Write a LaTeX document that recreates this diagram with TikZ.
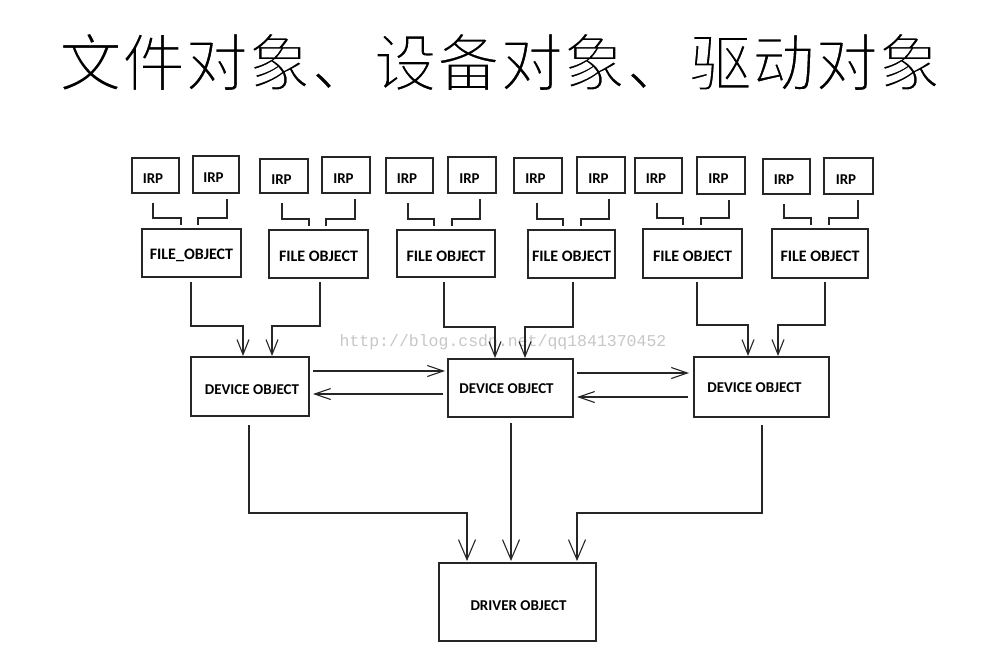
\documentclass[tikz,border=0pt]{standalone}
\usepackage{fontspec}
\setmainfont{Carlito}
\newfontfamily\cjkfont{Noto Sans CJK SC}
\newfontfamily\wmfont{Liberation Mono}
\usetikzlibrary{arrows.meta}
\tikzset{
  box/.style={draw=black!85, line width=1.3pt, inner sep=0pt, outer sep=0pt, fill=white},
  txt/.style={font=\bfseries\fontsize{15}{15}\selectfont, inner sep=0pt, text=black},
  ftxt/.style={font=\bfseries\fontsize{16}{16}\selectfont, inner sep=0pt, text=black},
  conn/.style={draw=black!85, line width=1.2pt},
  varr/.style={conn, -{Straight Barb[length=15pt,width=12pt,line width=1.1pt]}},
  harr/.style={conn, -{Straight Barb[length=16pt,width=11pt,line width=1.1pt]}},
  darr/.style={conn, -{Straight Barb[length=20pt,width=17pt,line width=1.1pt]}},
}
\newcommand\thinon{\special{pdf:literal direct 2 Tr 1 G 2 w}}
\newcommand\thinoff{\special{pdf:literal direct 0 Tr 0 G 1 w}}
\newcommand\irpbox[6]{\node[box,minimum width=#4pt,minimum height=#5pt,
  label={[txt,shift={(-2.5,3.5)}]center:IRP}] (#1) at (#2,#3) {};}
\newcommand\filebox[6]{\node[box,minimum width=#4pt,minimum height=#5pt,
  label={[ftxt,shift={(0,2.5)}]center:#6}] (#1) at (#2,#3) {};}
\newcommand\irpconn[7]{%
  \draw[conn] ([shift={(#4,10)}]#1.south) |- ([shift={(#5,-11)}]#3.north) -- ([shift={(#5,-4)}]#3.north);
  \draw[conn] ([shift={(#6,6)}]#2.south) |- ([shift={(#7,-11)}]#3.north) -- ([shift={(#7,-4)}]#3.north);}
\begin{document}
\begin{tikzpicture}[x=1pt,y=-1pt]
\fill[white] (0,0) rectangle (987,659);
\useasboundingbox (0,0) rectangle (987,659);

% title
\node[font=\cjkfont\fontsize{63}{63}\selectfont, inner sep=0pt] (title) at (500,62) {\thinon 文件对象、设备对象、驱动对象\thinoff};

% watermark
\node[font=\wmfont\fontsize{16.5}{16.5}\selectfont, text=black!22, anchor=base, inner sep=0pt] (wm) at (503,346) {http://blog.csdn.net/qq1841370452};

% IRP boxes
\irpbox{I1a}{155.5}{175.5}{47}{35}{}
\irpbox{I1b}{216}{174.5}{46}{37}{}
\irpbox{I2a}{284}{176}{48}{34}{}
\irpbox{I2b}{346}{175}{48}{36}{}
\irpbox{I3a}{409.5}{175.5}{47}{35}{}
\irpbox{I3b}{472}{175}{48}{36}{}
\irpbox{I4a}{538}{175.5}{48}{35}{}
\irpbox{I4b}{601}{175}{48}{36}{}
\irpbox{I5a}{658.5}{175.5}{47}{35}{}
\irpbox{I5b}{721}{175.5}{48}{37}{}
\irpbox{I6a}{786.5}{176.5}{47}{35}{}
\irpbox{I6b}{848.5}{176}{49}{36}{}

% file objects
\filebox{F1}{191.5}{253}{99}{48}{FILE\_OBJECT}
\filebox{F2}{318.5}{254}{99}{48}{FILE OBJECT}
\filebox{F3}{446}{253.5}{98}{47}{FILE OBJECT}
\filebox{F4}{571.5}{254}{87}{48}{FILE OBJECT}
\filebox{F5}{692.5}{253.5}{99}{49}{FILE OBJECT}
\filebox{F6}{820}{253.5}{96}{49}{FILE OBJECT}

% device objects
\node[box,minimum width=118pt,minimum height=59pt,label={[txt,shift={(2,3.5)}]center:DEVICE OBJECT}] (D1) at (250,386.5) {};
\node[box,minimum width=125pt,minimum height=58pt,label={[txt,shift={(-4,1)}]center:DEVICE OBJECT}] (D2) at (510.5,388) {};
\node[box,minimum width=135pt,minimum height=60pt,label={[txt,shift={(-7,1)}]center:DEVICE OBJECT}] (D3) at (761.5,387) {};

% driver object
\node[box,minimum width=157pt,minimum height=78pt,label={[txt,shift={(1,4)}]center:DRIVER OBJECT}] (DR) at (517.5,602) {};

% IRP -> file object connectors
\irpconn{I1a}{I1b}{F1}{-2.5}{-10.5}{11}{6.5}
\irpconn{I2a}{I2b}{F2}{-2}{-9.5}{9}{7.5}
\irpconn{I3a}{I3b}{F3}{-1.5}{-12}{8}{6}
\irpconn{I4a}{I4b}{F4}{-1}{-8.5}{8}{9.5}
\irpconn{I5a}{I5b}{F5}{-1.5}{-9.5}{8}{8.5}
\irpconn{I6a}{I6b}{F6}{-2.5}{-9}{9.5}{9}

% file object -> device object
\draw[varr] ([shift={(-0.5,5)}]F1.south) |- ([shift={(-7,-31)}]D1.north) -- ([shift={(-7,-1)}]D1.north);
\draw[varr] ([shift={(1.5,4)}]F2.south) |- ([shift={(22,-31)}]D1.north) -- ([shift={(22,-1)}]D1.north);
\draw[varr] ([shift={(-2,5)}]F3.south) |- ([shift={(-15.5,-32)}]D2.north) -- ([shift={(-15.5,-1)}]D2.north);
\draw[varr] ([shift={(1.5,4)}]F4.south) |- ([shift={(14.5,-32)}]D2.north) -- ([shift={(14.5,-1)}]D2.north);
\draw[varr] ([shift={(4.5,4)}]F5.south) |- ([shift={(-13.5,-32)}]D3.north) -- ([shift={(-13.5,-1)}]D3.north);
\draw[varr] ([shift={(5,4)}]F6.south) |- ([shift={(16.5,-32)}]D3.north) -- ([shift={(16.5,-1)}]D3.north);

% device <-> device
\draw[harr] ([shift={(4,-15.5)}]D1.east) -- ([shift={(-3,-17)}]D2.west);
\draw[harr] ([shift={(-5,6)}]D2.west) -- ([shift={(4,7.5)}]D1.east);
\draw[harr] ([shift={(4,-15)}]D2.east) -- ([shift={(-5,-14)}]D3.west);
\draw[harr] ([shift={(-6,10)}]D3.west) -- ([shift={(4,9)}]D2.east);

% device -> driver
\draw[darr] ([shift={(-1,9)}]D1.south) |- ([shift={(-50.5,-50)}]DR.north) -- ([shift={(-50.5,-2)}]DR.north);
\draw[darr] ([shift={(0.5,6)}]D2.south) -- ([shift={(-6.5,-2)}]DR.north);
\draw[darr] ([shift={(0.5,8)}]D3.south) |- ([shift={(59.5,-50)}]DR.north) -- ([shift={(59.5,-2)}]DR.north);
\end{tikzpicture}
\end{document}
